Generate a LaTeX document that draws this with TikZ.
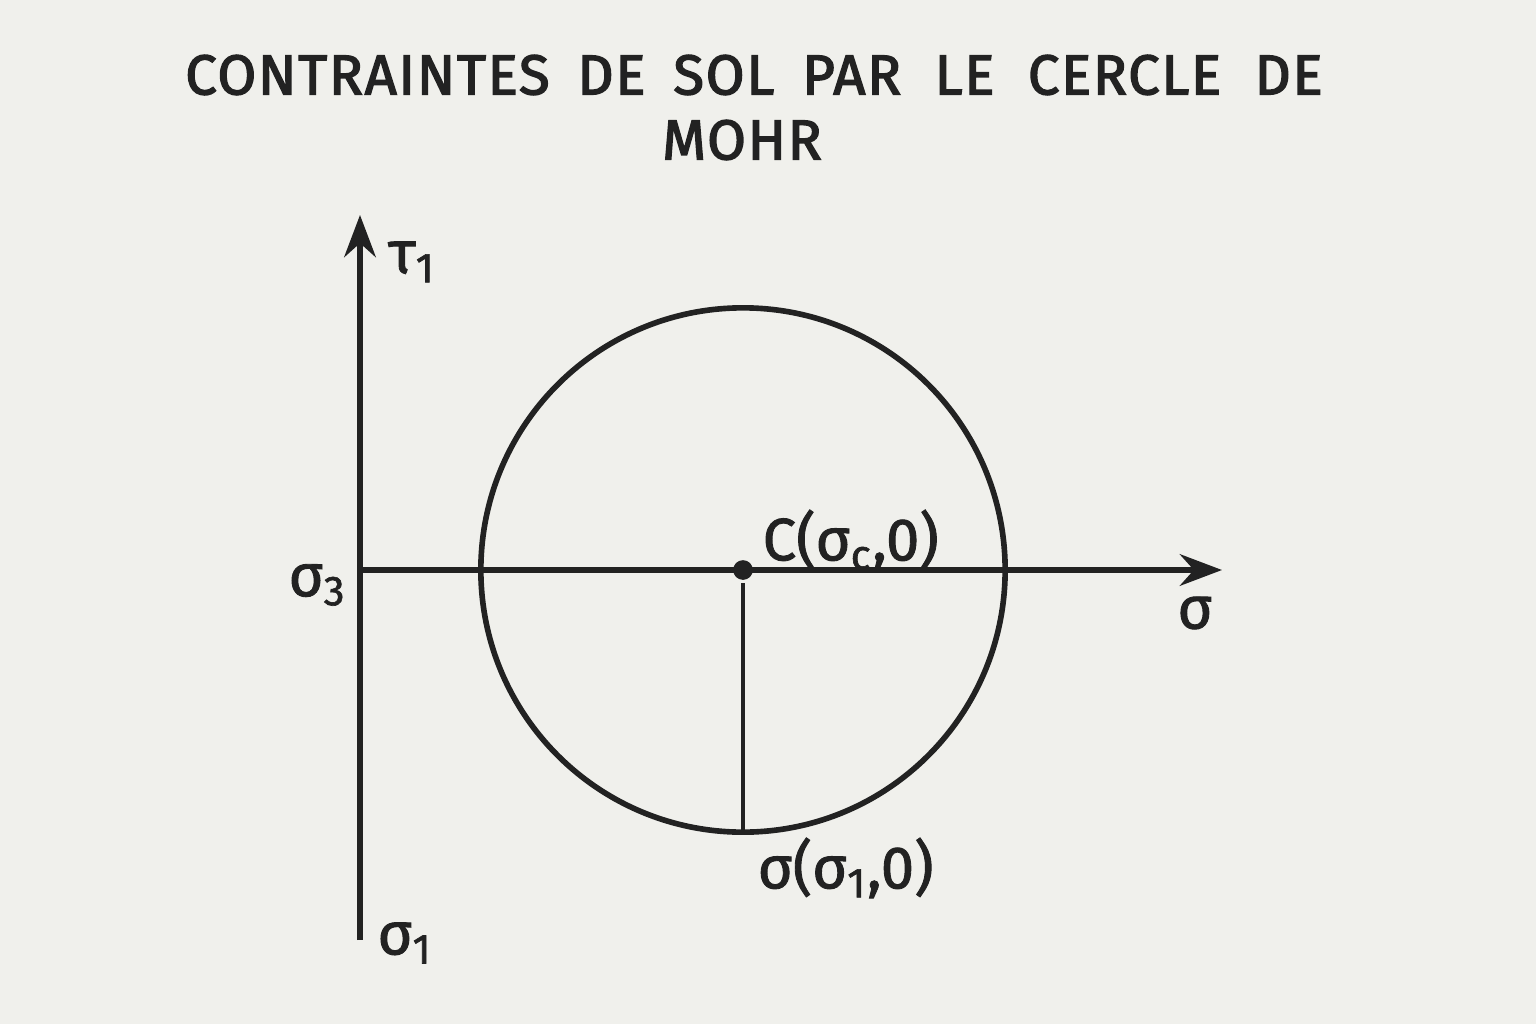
\documentclass[tikz,border=0pt]{standalone}
\usepackage{fontspec}
\setmainfont{Fira Sans}
\newfontfamily\heavy[FakeBold=1.5]{Fira Sans}
\newfontfamily\heavytitle[FakeBold=2.5,LetterSpace=3]{Fira Sans}
\usetikzlibrary{arrows.meta}
\definecolor{paper}{HTML}{F0F0EC}
\definecolor{ink}{HTML}{222222}
\tikzset{
  axisline/.style={draw=ink, line width=1.6pt, -{Stealth[length=12pt,width=9pt,inset=4pt]}},
  lbl/.style={text=ink, font=\heavy\fontsize{17}{20}\selectfont, inner sep=0pt},
  ttl/.style={text=ink, font=\heavytitle\fontsize{16}{19}\selectfont, inner sep=0pt}
}
\begin{document}
\begin{tikzpicture}[x=0.01cm, y=-0.01cm]
\fill[paper] (0,0) rectangle (1536,1024);
\useasboundingbox (0,0) rectangle (1536,1024);
% title
\node[ttl] (t1) at (754,75) {CONTRAINTES\hspace{0.2em} DE\hspace{0.2em} SOL\hspace{0.2em} PAR\hspace{0.3em} LE\hspace{0.3em} CERCLE\hspace{0.3em} DE};
\node[ttl] (t2) at (742,140) {MOHR};
% axes
\coordinate (O) at (360,570);
\coordinate (Ytop) at (360,215);
\coordinate (Ybot) at (360,940);
\coordinate (Xend) at (1222,570);
\draw[axisline] (Ybot) -- (Ytop);
\draw[axisline] (O) -- (Xend);
% circle
\coordinate (C) at (743,570);
\node[circle, draw=ink, line width=1.6pt, minimum size=5.24cm, inner sep=0pt] (circ) at (C) {};
\fill[ink] (C) circle (2.8pt);
\coordinate (Cb) at (743,583);
\draw[ink, line width=0.9pt] (Cb) -- (circ.south);
% labels
\node[lbl] (tau) at (412,262) {τ\textsubscript{1}};
\node[lbl, anchor=east] (s3) at (347,585) {σ\textsubscript{3}};
\node[lbl] (sig) at (1195,613) {σ};
\node[lbl] (s1) at (405,943) {σ\textsubscript{1}};
\node[lbl, anchor=west] (cl) at (762,540) {C(σ\textsubscript{c},0)};
\node[lbl, anchor=west] (sl) at (757,868) {σ(σ\textsubscript{1},0)};
\end{tikzpicture}
\end{document}
